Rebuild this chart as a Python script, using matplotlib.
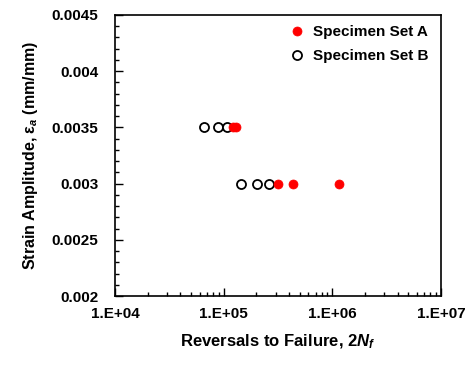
import matplotlib.pyplot as plt
import matplotlib.ticker as mticker
import numpy as np

plt.rcParams['font.family'] = 'Liberation Sans'
plt.rcParams['font.weight'] = 'bold'
plt.rcParams['mathtext.fontset'] = 'custom'
plt.rcParams['mathtext.rm'] = 'Liberation Sans:bold'
plt.rcParams['mathtext.it'] = 'Liberation Sans:italic:bold'
plt.rcParams['mathtext.bf'] = 'Liberation Sans:bold'

# Specimen Set A (filled red)
reversals_a = [1.22e5, 1.30e5, 3.16e5, 4.34e5, 1.15e6]
strain_a = [0.0035, 0.0035, 0.003, 0.003, 0.003]

# Specimen Set B (open black)
reversals_b = [6.6e4, 8.9e4, 1.07e5, 1.44e5, 2.03e5, 2.61e5]
strain_b = [0.0035, 0.0035, 0.0035, 0.003, 0.003, 0.003]

x_ticks = [1e4, 1e5, 1e6, 1e7]
y_ticks = [0.002, 0.0025, 0.003, 0.0035, 0.004, 0.0045]

fig = plt.figure(figsize=(4.74, 3.73), dpi=100)
ax = fig.add_axes([0.2426, 0.2064, 0.6878, 0.7534])

ax.plot(reversals_b, strain_b, 'o', ms=6.5, mfc='white', mec='black', mew=1.3,
        linestyle='none', label='Specimen Set B', zorder=3)
ax.plot(reversals_a, strain_a, 'o', ms=6.5, mfc='red', mec='red', mew=0.5,
        linestyle='none', label='Specimen Set A', zorder=4)

ax.set_xscale('log')
ax.set_xlim(1e4, 1e7)
ax.set_ylim(0.002, 0.0045)
ax.set_xticks(x_ticks)
ax.xaxis.set_major_formatter(mticker.FuncFormatter(lambda v, p: f"1.E+{int(round(np.log10(v))):02d}"))
ax.set_yticks(y_ticks)
ax.yaxis.set_major_formatter(mticker.FuncFormatter(lambda v, p: f"{v:.4f}".rstrip('0')))
ax.yaxis.set_minor_locator(mticker.MultipleLocator(0.0001))
ax.xaxis.set_minor_locator(mticker.LogLocator(base=10, subs=np.arange(2, 10)))
ax.xaxis.set_minor_formatter(mticker.NullFormatter())

ax.tick_params(which='both', direction='in', labelsize=11, width=1)
ax.tick_params(which='major', length=6)
ax.tick_params(which='minor', length=3)
ax.tick_params(axis='x', pad=8)
ax.tick_params(axis='y', pad=12)
for s in ax.spines.values():
    s.set_linewidth(1.2)

ax.set_xlabel(r"Reversals to Failure, 2$\it{N_f}$", fontsize=12, fontweight='bold', labelpad=8)
ax.set_ylabel("Strain Amplitude, ε$_a$ (mm/mm)", fontsize=11.5, fontweight='bold', labelpad=8)

handles, labels = ax.get_legend_handles_labels()
ax.legend(handles[::-1], labels[::-1], loc='upper left', bbox_to_anchor=(0.51, 0.985),
          frameon=False, fontsize=11, handletextpad=0.5, labelspacing=0.65,
          handlelength=1.2, borderaxespad=0)

plt.savefig('out.png', dpi=100)
plt.close()
